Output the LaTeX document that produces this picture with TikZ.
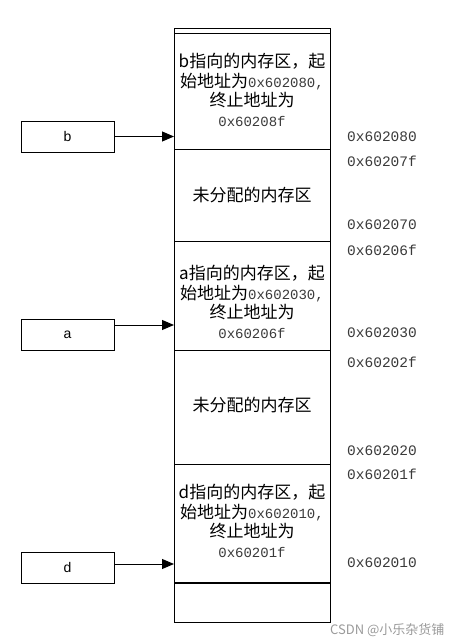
\documentclass[tikz,border=0pt]{standalone}
\usepackage{fontspec}
\setmainfont{Noto Sans CJK SC}
\newfontfamily\cjkf{Noto Sans CJK SC}
\newfontfamily\hexf{Liberation Mono}
\newfontfamily\latf{Liberation Sans}
\usetikzlibrary{arrows.meta}
\definecolor{hexc}{HTML}{3A3A3A}
\definecolor{wmc}{HTML}{9A9A9A}
\newcommand{\hexs}[1]{{\hexf\fontsize{14}{19.5}\selectfont\color{hexc}#1}}
\begin{document}
\begin{tikzpicture}[x=1pt,y=-1pt,
  cell/.style={draw, line width=1pt, minimum width=156pt, inner sep=0pt, outer sep=0pt, anchor=north west},
  celltext/.style={align=center, inner sep=0pt, font=\cjkf\fontsize{17}{19.5}\selectfont},
  addr/.style={anchor=west, inner sep=0pt, text=hexc, font=\hexf\fontsize{14.5}{17}\selectfont},
  ptr/.style={draw, line width=1pt, minimum width=93pt, minimum height=31pt, inner sep=0pt, font=\latf\fontsize{14}{16}\selectfont},
  arr/.style={line width=1pt, -{Triangle[length=12pt,width=10pt]}}]
\useasboundingbox (0,0) rectangle (466,643);
% memory column
\node[cell, minimum height=5pt]   (ctop) at (174,28)  {};
\node[cell, minimum height=116pt] (cb)   at (174,33)  {};
\node[cell, minimum height=92pt]  (cu1)  at (174,149) {};
\node[cell, minimum height=109pt] (ca)   at (174,241) {};
\node[cell, minimum height=114pt] (cu2)  at (174,350) {};
\node[cell, minimum height=119pt] (cd)   at (174,464) {};
\node[cell, minimum height=39pt]  (cbot) at (174,583) {};
\draw[line width=2pt] (cbot.north west) -- (cbot.north east);
% cell texts
\node[celltext] (tb) at (252,90) {b指向的内存区，起\\始地址为\hexs{0x602080,}\\终止地址为\\\hexs{0x60208f}};
\node[celltext] (tu1) at (252,195) {未分配的内存区};
\node[celltext] (ta) at (252,302) {a指向的内存区，起\\始地址为\hexs{0x602030,}\\终止地址为\\\hexs{0x60206f}};
\node[celltext] (tu2) at (252,405) {未分配的内存区};
\node[celltext] (td) at (252,521) {d指向的内存区，起\\始地址为\hexs{0x602010,}\\终止地址为\\\hexs{0x60201f}};
% address labels
\node[addr] (a1) at (347,137) {0x602080};
\node[addr] (a2) at (347,161) {0x60207f};
\node[addr] (a3) at (347,225) {0x602070};
\node[addr] (a4) at (347,250) {0x60206f};
\node[addr] (a5) at (347,333) {0x602030};
\node[addr] (a6) at (347,362) {0x60202f};
\node[addr] (a7) at (347,451) {0x602020};
\node[addr] (a8) at (347,474) {0x60201f};
\node[addr] (a9) at (347,563) {0x602010};
% pointers
\node[ptr] (b) at (67.5,136.5) {b};
\node[ptr] (a) at (67.5,335) {a};
\node[ptr] (d) at (67.5,567.5) {d};
\draw[arr] (b.east) -- (b.east -| cb.west);
\draw[arr] ([yshift=10pt]a.east) -- ([yshift=10pt]a.east -| ca.west);
\draw[arr] ([yshift=3.5pt]d.east) -- ([yshift=3.5pt]d.east -| cd.west);
% watermark
\node[anchor=west, inner sep=0pt, text=wmc, font=\cjkf\fontsize{13}{15}\selectfont] (wm) at (330,630) {CSDN @小乐杂货铺};
\end{tikzpicture}
\end{document}
